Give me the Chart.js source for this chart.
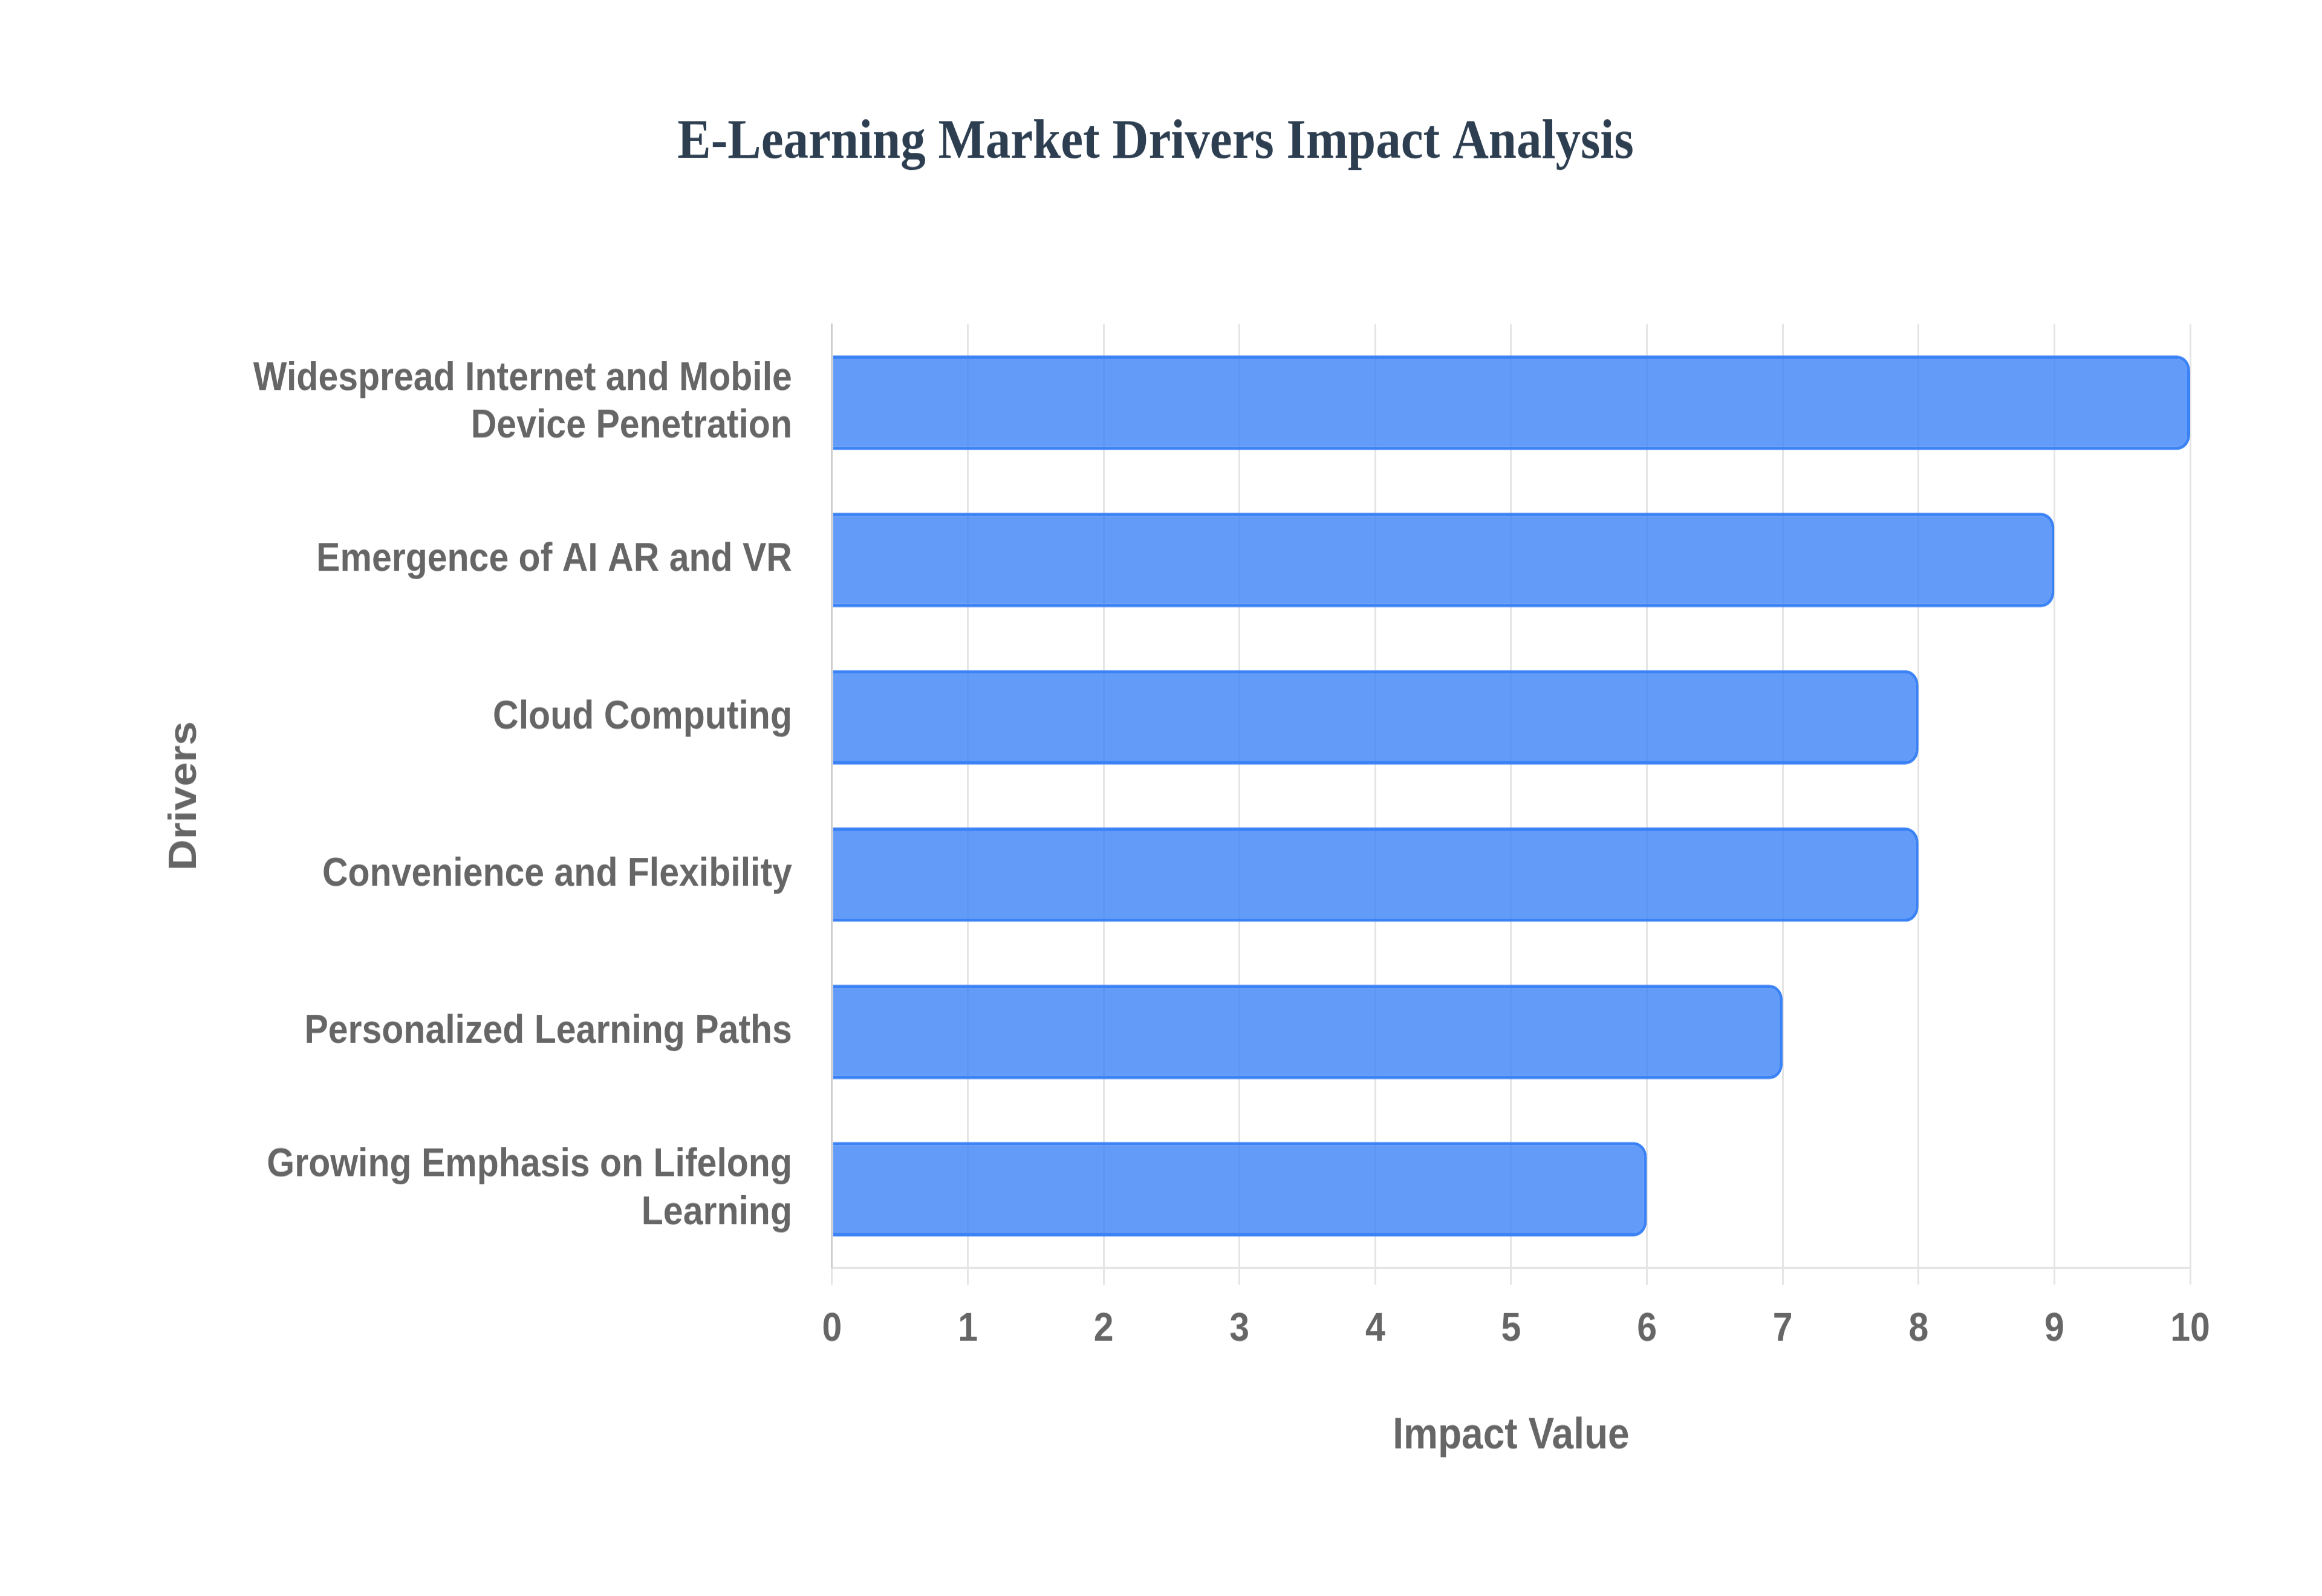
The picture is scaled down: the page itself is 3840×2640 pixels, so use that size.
<!DOCTYPE html>
<html>
<head>
<meta charset="utf-8">
<title>E-Learning Market Drivers Impact Analysis</title>
<script src="https://cdn.jsdelivr.net/npm/chart.js@4.4.1/dist/chart.umd.min.js"></script>
<style>
  html, body { margin: 0; padding: 0; background: #fff; overflow: hidden; }
</style>
</head>
<body>
<!-- the source picture is drawn a little taller than wide, so the canvas
     is rendered at 3840x2357 and shown at 3840x2640 -->
<canvas id="drivers" width="3840" height="2357" style="display:block;width:3840px;height:2640px"></canvas>
<script>
const drivers = [
  ["Widespread Internet and Mobile", "Device Penetration"],
  "Emergence of AI AR and VR",
  "Cloud Computing",
  "Convenience and Flexibility",
  "Personalized Learning Paths",
  ["Growing Emphasis on Lifelong", "Learning"],
];
const impactValues = [10, 9, 8, 8, 7, 6];
const xTicks = [0, 1, 2, 3, 4, 5, 6, 7, 8, 9, 10];

const sans = "'Helvetica Neue', Helvetica, Arial, 'Liberation Sans', sans-serif";
const grey = "#666";

const ctx = document.getElementById("drivers").getContext("2d");

new Chart(ctx, {
  type: "bar",
  data: {
    labels: drivers,
    datasets: [
      {
        label: "Impact Value",
        data: impactValues,
        backgroundColor: "rgba(59, 130, 246, 0.8)",
        borderColor: "#3b82f6",
        borderWidth: 5,
        borderRadius: 22,
        barPercentage: 0.75,
        categoryPercentage: 0.8,
      },
    ],
  },
  options: {
    indexAxis: "y",
    responsive: false,
    animation: false,
    devicePixelRatio: 1,
    layout: {
      padding: { top: 0, right: 218, bottom: 0, left: 200 },
    },
    plugins: {
      legend: { display: false },
      tooltip: { enabled: false },
      title: {
        display: true,
        text: "E-Learning Market Drivers Impact Analysis",
        color: "#2c3e50",
        font: { family: "'Times New Roman', 'Liberation Serif', serif", size: 83, weight: "bold" },
        padding: { top: 162, bottom: 217 },
      },
    },
    scales: {
      x: {
        min: 0,
        max: 10,
        afterBuildTicks: (axis) => {
          axis.ticks = xTicks.map((v) => ({ value: v }));
        },
        grid: {
          color: "rgba(0, 0, 0, 0.1)",
          lineWidth: 3,
          tickLength: 25,
        },
        border: { color: "rgba(0, 0, 0, 0.1)", width: 3 },
        ticks: {
          color: grey,
          padding: 31,
          font: { family: sans, size: 59, weight: "bold" },
        },
        title: {
          display: true,
          text: "Impact Value",
          color: grey,
          font: { family: sans, size: 64, weight: "bold" },
          padding: { top: 53, bottom: 197 },
        },
      },
      y: {
        grid: { display: false },
        border: { color: "rgba(0, 0, 0, 0.1)", width: 3 },
        ticks: {
          color: grey,
          padding: 58,
          font: { family: sans, size: 59, weight: "bold" },
        },
        title: {
          display: true,
          text: "Drivers",
          color: grey,
          font: { family: sans, size: 64, weight: "bold" },
          padding: { top: 68, bottom: 16 },
        },
      },
    },
  },
});
</script>
</body>
</html>
